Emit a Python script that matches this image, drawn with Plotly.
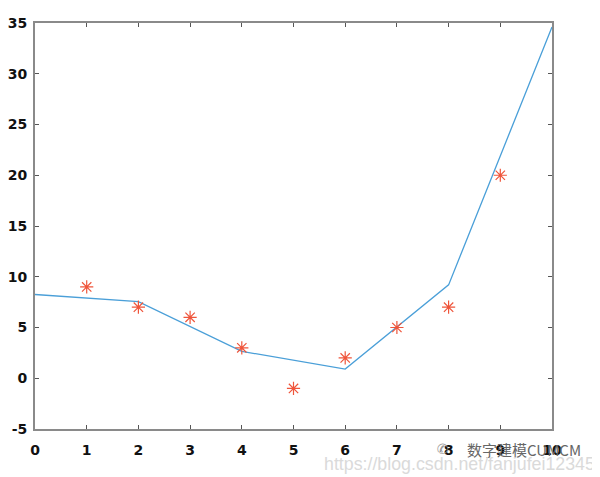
import plotly.graph_objects as go

# Fitted curve (evaluated at even x)
fit_x = [0, 2, 4, 6, 8, 10]
fit_y = [8.25, 7.55, 2.65, 0.9, 9.2, 34.6]

# Observed data points
obs_x = [1, 2, 3, 4, 5, 6, 7, 8, 9]
obs_y = [9, 7, 6, 3, -1, 2, 5, 7, 20]

x_ticks = [0, 1, 2, 3, 4, 5, 6, 7, 8, 9, 10]
y_ticks = [-5, 0, 5, 10, 15, 20, 25, 30, 35]
y_tick_labels = ["-5", "0", "5", "10", "15", "20", "25", "30", "35"]

fig = go.Figure()
fig.add_trace(go.Scatter(x=fit_x, y=fit_y, mode="lines",
                         line=dict(color="#4a9fd8", width=1.3),
                         showlegend=False, cliponaxis=False))
fig.add_trace(go.Scatter(x=obs_x, y=obs_y, mode="markers",
                         marker=dict(symbol="asterisk-open", size=11,
                                     line=dict(color="#ff3535", width=1.2)),
                         showlegend=False))

axis_common = dict(showline=True, linecolor="#8a8a8a", linewidth=2, mirror="ticks",
                   ticks="inside", ticklen=4, tickcolor="#555", tickwidth=1,
                   showgrid=False, zeroline=False, automargin=False,
                   tickfont=dict(family="DejaVu Sans", size=14, color="#111", weight="bold"))

fig.update_xaxes(range=[0, 10], tickvals=x_ticks, ticklabelstandoff=7, **axis_common)
fig.update_yaxes(range=[-5, 35], tickvals=y_ticks, ticktext=y_tick_labels,
                 ticklabelstandoff=3, **axis_common)

# plot area in window px: x 35..552, y 23..429
def px(xw):
    return (xw - 35) / 517

def py(yw):
    return (429 - yw) / 406

fig.add_annotation(xref="paper", yref="paper", x=px(524), y=py(449),
                   text="数字建模CUMCM", showarrow=False,
                   font=dict(family="Noto Sans CJK SC", size=15, color="#666"),
                   xanchor="center", yanchor="middle")
fig.add_annotation(xref="paper", yref="paper", x=px(443), y=py(449),
                   text="✆", showarrow=False,
                   font=dict(family="DejaVu Sans", size=14, color="#999"),
                   xanchor="center", yanchor="middle")
fig.add_annotation(xref="paper", yref="paper", x=px(322), y=py(464),
                   text="https://blog.csdn.net/fanjufei123456", showarrow=False,
                   font=dict(family="Liberation Sans", size=17.8, color="#dadada"),
                   xanchor="left", yanchor="middle")

# page body has an 8px margin, so the figure is offset by (8, 8) in the window
fig.update_layout(width=592, height=469, margin=dict(l=27, r=48, t=15, b=48),
                  plot_bgcolor="white", paper_bgcolor="white")

fig.write_html("out.html")
